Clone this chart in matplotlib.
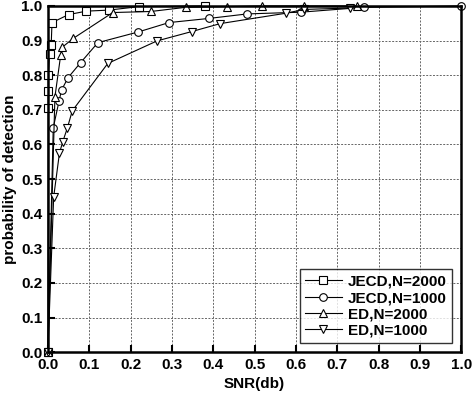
import matplotlib.pyplot as plt
import numpy as np

plt.rcParams['font.family'] = ['Liberation Sans', 'DejaVu Sans']
plt.rcParams['font.weight'] = 'bold'

# JECD, N=2000
x_jecd2000 = [0.0, 0.001, 0.001, 0.001, 0.004, 0.008, 0.01, 0.05, 0.093, 0.147, 0.22, 0.38]
y_jecd2000 = [0.0, 0.705, 0.755, 0.80, 0.861, 0.887, 0.952, 0.975, 0.985, 0.988, 0.998, 1.0]

# JECD, N=1000
x_jecd1000 = [0.0, 0.013, 0.027, 0.033, 0.049, 0.079, 0.121, 0.219, 0.293, 0.39, 0.482, 0.612, 0.764, 1.0]
y_jecd1000 = [0.0, 0.648, 0.725, 0.757, 0.793, 0.836, 0.894, 0.925, 0.952, 0.964, 0.977, 0.982, 0.996, 1.0]

# ED, N=2000
x_ed2000 = [0.0, 0.017, 0.031, 0.035, 0.061, 0.157, 0.249, 0.333, 0.434, 0.518, 0.62, 0.748]
y_ed2000 = [0.0, 0.737, 0.858, 0.881, 0.906, 0.981, 0.984, 0.996, 0.998, 1.0, 1.0, 1.0]

# ED, N=1000
x_ed1000 = [0.0, 0.014, 0.028, 0.036, 0.047, 0.059, 0.145, 0.264, 0.348, 0.417, 0.576, 0.62, 0.732]
y_ed1000 = [0.0, 0.448, 0.575, 0.608, 0.647, 0.697, 0.834, 0.899, 0.926, 0.949, 0.979, 0.99, 0.994]

fig = plt.figure(figsize=(4.74, 3.97), dpi=100)
ax = fig.add_axes([0.101, 0.113, 0.872, 0.872])

style = dict(color='black', lw=0.8, markersize=5.5, markerfacecolor='white',
             markeredgecolor='black', markeredgewidth=0.8, clip_on=False)
ax.plot(x_jecd2000, y_jecd2000, marker='s', label='JECD,N=2000', **style)
ax.plot(x_jecd1000, y_jecd1000, marker='o', label='JECD,N=1000', **style)
ax.plot(x_ed2000, y_ed2000, marker='^', label='ED,N=2000', **style)
ax.plot(x_ed1000, y_ed1000, marker='v', label='ED,N=1000', **style)

ticks = np.arange(0, 1.01, 0.1)
ax.set_xlim(0, 1.0)
ax.set_ylim(0, 1.0)
ax.set_xticks(ticks)
ax.set_yticks(ticks)
ax.set_xticklabels([f"{v:.1f}" for v in ticks])
ax.set_yticklabels([f"{v:.1f}" for v in ticks])
ax.tick_params(direction='in', length=5, width=1.5, labelsize=11, pad=4)
ax.grid(True, linestyle=(0, (2, 1.5)), color='#666666', lw=0.7)
for s in ax.spines.values():
    s.set_linewidth(1.8)

ax.set_xlabel('SNR(db)', fontsize=11, fontweight='bold', labelpad=4)
ax.set_ylabel('probability of detection', fontsize=11, fontweight='bold', labelpad=3)

leg = ax.legend(loc='lower right', fontsize=11, frameon=True, fancybox=False,
                edgecolor='black', handlelength=2.4, handletextpad=0.4,
                borderpad=0.35, labelspacing=0.15, borderaxespad=0.6)
leg.get_frame().set_linewidth(1.0)
for t in leg.get_texts():
    t.set_fontweight('bold')

fig.savefig('out.png', dpi=100)
